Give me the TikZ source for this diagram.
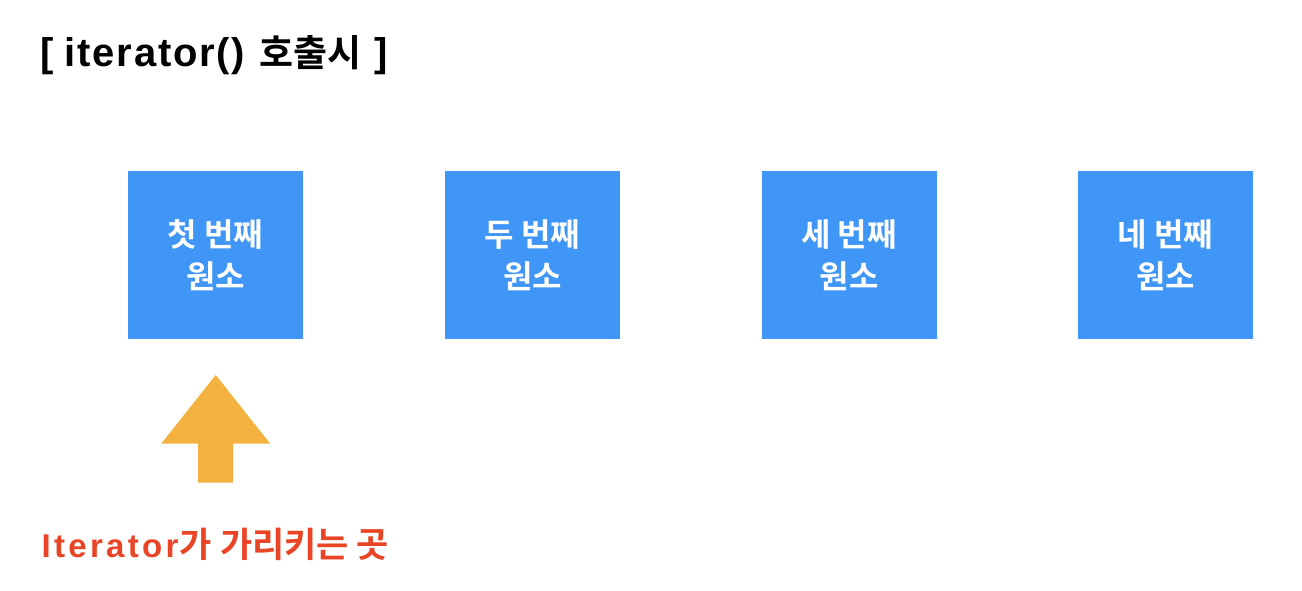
\documentclass[tikz,border=0pt]{standalone}
\usepackage{fontspec}
\setmainfont{Liberation Sans}
\newfontfamily\kr{Noto Sans CJK KR}[BoldFont={Noto Sans CJK KR Bold}]
\definecolor{elemblue}{HTML}{3F96F6}
\definecolor{ptrorange}{HTML}{F3B13F}
\definecolor{ptrred}{HTML}{EA4426}
\begin{document}
\begin{tikzpicture}[x=1pt,y=-1pt]
\tikzset{
  elem/.style={fill=elemblue, draw=none, minimum width=175pt, minimum height=168pt,
    inner sep=0pt, align=center, text=white,
    font=\kr\bfseries\fontsize{32}{42}\selectfont},
  titletext/.style={anchor=base west, inner sep=0pt, font=\bfseries\fontsize{40}{48}\selectfont},
  labeltext/.style={anchor=base west, inner sep=0pt, text=ptrred, font=\bfseries\fontsize{33}{40}\selectfont}
}
\useasboundingbox (0,0) rectangle (1302,590);
\fill[white] (0,0) rectangle (1302,590);
\node[titletext] (title) at (40,66) {[ {\addfontfeature{LetterSpace=4.5}iterator()} \hspace{3pt}{\kr\fontsize{37}{48}\selectfont 호출시} \hspace{2pt}]};
\node[elem] (e1) at (215.5,255) {첫 번째\\원소};
\node[elem] (e2) at (532.5,255) {두 번째\\원소};
\node[elem] (e3) at (849,255) {세 번째\\원소};
\node[elem] (e4) at (1165.5,255) {네 번째\\원소};
\coordinate (tip) at (215.7,375);
\fill[ptrorange] (tip) -- ++(54.5,68.7) -- ++(-37,0) -- ++(0,39) -- ++(-35,0) -- ++(0,-39) -- ++(-37,0) -- cycle;
\node[labeltext] (label) at (41.5,557) {{\addfontfeature{LetterSpace=10}Iterator}\hspace{1.5pt}{\kr\fontsize{35}{40}\selectfont 가 가리키는 곳}};
\end{tikzpicture}
\end{document}
